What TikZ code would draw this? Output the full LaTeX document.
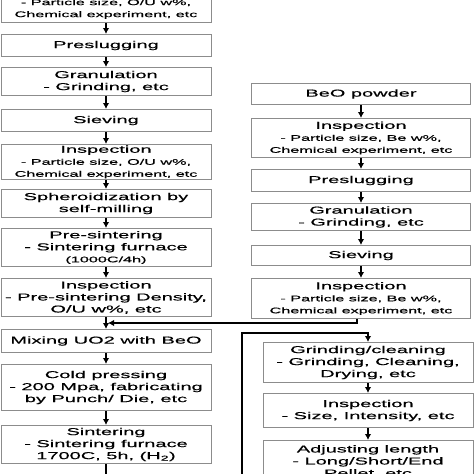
\documentclass[tikz,border=0pt]{standalone}
\usepackage{fontspec}
\setmainfont{Liberation Sans}[FakeStretch=2.0,FakeBold=0.5]
\usetikzlibrary{arrows.meta}
\definecolor{boxgray}{RGB}{140,140,140}
\newcommand{\bigline}[1]{{\fontsize{10}{12}\selectfont #1}}
\newcommand{\smlline}[1]{{\fontsize{8.1}{9.5}\selectfont #1}}
\begin{document}
\begin{tikzpicture}[x=1pt,y=-1pt,
    step box/.style={draw=boxgray,line width=1pt,anchor=north,align=center,inner sep=1pt,fill=white},
    lbox/.style={step box,minimum width=210pt},
    rbox/.style={step box,minimum width=219pt},
    cbox/.style={step box,minimum width=210pt},
    >={Latex[length=6pt,width=6.5pt]},
    flow/.style={->,line width=1.2pt}]
\useasboundingbox (0,0) rectangle (474,474);
\clip (0,0) rectangle (474,474);
% left column
\node[lbox,anchor=south,minimum height=27pt](insL0) at (106,23){\smlline{- Particle size, O/U w\%,}\\\smlline{Chemical experiment, etc}};
\node[lbox,minimum height=22pt](presL) at (106,34){\bigline{Preslugging}};
\node[lbox,minimum height=28pt](granL) at (106,67){\bigline{Granulation}\\\bigline{- Grinding, etc}};
\node[lbox,minimum height=22pt](sievL) at (106,109){\bigline{Sieving}};
\node[lbox,minimum height=33pt](insL1) at (106,144){\bigline{Inspection}\\\smlline{- Particle size, O/U w\%,}\\\smlline{Chemical experiment, etc}};
\node[lbox,minimum height=28pt](spher) at (106,189){\bigline{Spheroidization by}\\\bigline{self-milling}};
\node[lbox,minimum height=38pt](presint) at (106,228){\bigline{Pre-sintering}\\\bigline{- Sintering furnace}\\\smlline{(1000C/4h)}};
\node[lbox,minimum height=38pt](insL2) at (106,278){\bigline{Inspection}\\\bigline{- Pre-sintering Density,}\\\bigline{O/U w\%, etc}};
\node[lbox,minimum height=23pt](mix) at (106,329){\bigline{Mixing UO2 with BeO}};
\node[lbox,minimum height=46pt](cold) at (106,364){\bigline{Cold pressing}\\\bigline{- 200 Mpa, fabricating}\\\bigline{by Punch/ Die, etc}};
\node[lbox,minimum height=38pt](sint) at (106,425){\bigline{Sintering}\\\bigline{- Sintering furnace}\\\bigline{1700C, 5h, (H\textsubscript{2})}};
\coordinate(sintOut) at (106,480);
% right column
\node[rbox,minimum height=21pt](beo) at (361,83){\bigline{BeO powder}};
\node[rbox,minimum height=39pt](insR1) at (361,118){\bigline{Inspection}\\\smlline{- Particle size, Be w\%,}\\\smlline{Chemical experiment, etc}};
\node[rbox,minimum height=22pt](presR) at (361,169){\bigline{Preslugging}};
\node[rbox,minimum height=27pt](granR) at (361,203){\bigline{Granulation}\\\bigline{- Grinding, etc}};
\node[rbox,minimum height=20pt](sievR) at (361,245){\bigline{Sieving}};
\node[rbox,minimum height=40pt](insR2) at (361,278){\bigline{Inspection}\\\smlline{- Particle size, Be w\%,}\\\smlline{Chemical experiment, etc}};
\coordinate(merge) at (106,323);
% finishing column
\node[cbox,minimum height=40pt](grind) at (368,342){\bigline{Grinding/cleaning}\\\bigline{- Grinding, Cleaning,}\\\bigline{Drying, etc}};
\node[cbox,minimum height=34pt](insC) at (368,393){\bigline{Inspection}\\\bigline{- Size, Intensity, etc}};
\node[cbox,minimum height=42pt](adj) at (368,440){\bigline{Adjusting length}\\\bigline{- Long/Short/End}\\\bigline{Pellet, etc}};
\coordinate(loopIn) at (242,480);
% arrows
\draw[flow](insL0) -- (presL);
\draw[flow](presL) -- (granL);
\draw[flow](granL) -- (sievL);
\draw[flow](sievL) -- (insL1);
\draw[flow](insL1) -- (spher);
\draw[flow](spher) -- (presint);
\draw[flow](presint) -- (insL2);
\draw[flow](insL2) -- (mix);
\draw[flow](mix) -- (cold);
\draw[flow](cold) -- (sint);
\draw[flow](sint) -- (sintOut);
\draw[flow](beo) -- (insR1);
\draw[flow](insR1) -- (presR);
\draw[flow](presR) -- (granR);
\draw[flow](granR) -- (sievR);
\draw[flow](sievR) -- (insR2);
\draw[flow]([xshift=-4pt]insR2.south) |- ([xshift=2pt]merge);
\draw[flow](loopIn) |- ([yshift=9pt]grind.north) -- (grind.north);
\draw[flow](grind) -- (insC);
\draw[flow](insC) -- (adj);
\end{tikzpicture}
\end{document}
